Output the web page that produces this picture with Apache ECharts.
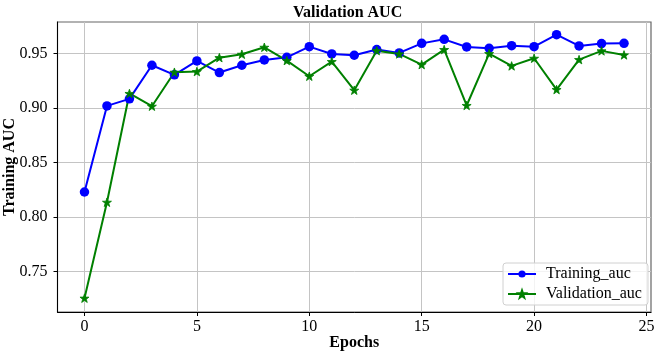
<!DOCTYPE html>
<html>
<head>
<meta charset="utf-8">
<script src="https://cdn.jsdelivr.net/npm/echarts@6/dist/echarts.min.js"></script>
<style>
html,body{margin:0;padding:0;background:#fff;}
#chart{width:656px;height:353px;}
</style>
</head>
<body>
<div id="chart"></div>
<script>
const epochs = [0,1,2,3,4,5,6,7,8,9,10,11,12,13,14,15,16,17,18,19,20,21,22,23,24];
const trainingAuc = [0.823,0.902,0.9085,0.9393,0.9305,0.9433,0.9326,0.9393,0.9442,0.9466,0.9564,0.9497,0.9485,0.9537,0.9506,0.9594,0.9631,0.9561,0.9549,0.9573,0.9564,0.9674,0.9570,0.9592,0.9594];
const validationAuc = [0.7256,0.8136,0.9134,0.9017,0.9329,0.9335,0.9463,0.9494,0.9558,0.9436,0.9292,0.9427,0.9164,0.9527,0.9497,0.9399,0.9537,0.9024,0.95,0.9387,0.9457,0.917,0.9445,0.9525,0.9488];
const xTicks = [0,5,10,15,20,25];
const yTicks = [0.75,0.80,0.85,0.90,0.95];

const FONT = "'Liberation Serif','Times New Roman',serif";
const STAR = 'path://M0,-10 L2.35,-3.24 L9.51,-3.09 L3.8,1.24 L5.88,8.09 L0,4 L-5.88,8.09 L-3.8,1.24 L-9.51,-3.09 L-2.35,-3.24 Z';

const chart = echarts.init(document.getElementById('chart'), null, {renderer:'canvas'});
chart.setOption({
  animation:false,
  backgroundColor:'#fff',
  title:{
    text:'Validation AUC', left:293, top:5, padding:0,
    textStyle:{fontFamily:FONT, fontWeight:'bold', fontSize:16, color:'#000'}
  },
  grid:{left:57.5, right:5, top:22, bottom:41, containLabel:false, outerBoundsMode:'none',
    show:true, borderColor:'#666', borderWidth:1.2, backgroundColor:'#fff'},
  legend:{
    left:503, top:263, orient:'vertical',
    padding:[3,6,3,4], itemGap:4, itemWidth:28, itemHeight:9,
    borderColor:'#d0d0d0', borderWidth:1, borderRadius:3, backgroundColor:'rgba(255,255,255,0.8)',
    textStyle:{fontFamily:FONT, fontSize:16, color:'#000', padding:[0,0,0,5]},
    data:['Training_auc','Validation_auc']
  },
  xAxis:{
    type:'value', min:-1.2, max:25.2,
    name:'Epochs', nameLocation:'middle', nameGap:23, nameMoveOverlap:false,
    nameTextStyle:{fontFamily:FONT, fontWeight:'bold', fontSize:16, color:'#000'},
    axisLine:{show:true, onZero:false, lineStyle:{color:'#000', width:1}},
    axisTick:{show:true, length:4, customValues:xTicks, lineStyle:{color:'#000'}},
    axisLabel:{customValues:xTicks, margin:7, fontFamily:FONT, fontSize:16, color:'#000'},
    splitLine:{show:true, lineStyle:{color:'#c4c4c4', width:1}}
  },
  yAxis:{
    type:'value', min:0.7129, max:0.979,
    name:'Training AUC', nameLocation:'middle', nameGap:40, nameMoveOverlap:false,
    nameTextStyle:{fontFamily:FONT, fontWeight:'bold', fontSize:16, color:'#000'},
    axisLine:{show:true, onZero:false, lineStyle:{color:'#000', width:1}},
    axisTick:{show:true, length:4, customValues:yTicks, lineStyle:{color:'#000'}},
    axisLabel:{customValues:yTicks, margin:10, fontFamily:FONT, fontSize:16, color:'#000',
      formatter:v=>v.toFixed(2)},
    splitLine:{show:true, lineStyle:{color:'#c4c4c4', width:1}}
  },
  series:[
    {
      name:'Training_auc', type:'line',
      data:epochs.map((e,i)=>[e,trainingAuc[i]]),
      symbol:'circle', symbolSize:9.5,
      lineStyle:{color:'#0000ff', width:2},
      itemStyle:{color:'#0000ff'}
    },
    {
      name:'Validation_auc', type:'line',
      data:epochs.map((e,i)=>[e,validationAuc[i]]),
      symbol:STAR, symbolSize:9, symbolKeepAspect:true,
      lineStyle:{color:'#008000', width:2},
      itemStyle:{color:'#008000', borderColor:'#008000', borderWidth:0.8}
    }
  ]
});
</script>
</body>
</html>
